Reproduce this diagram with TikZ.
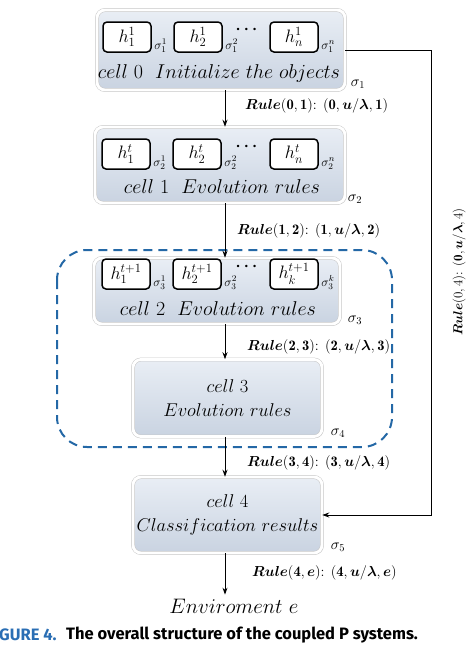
\RequirePackage{fix-cm}
\documentclass[tikz,border=0pt]{standalone}
\usepackage{amsmath}
\usepackage{bm}
\usepackage{fontspec}
\newfontfamily\capfont{Fira Sans}
\usetikzlibrary{arrows.meta,shadows,calc}
\definecolor{dashblue}{HTML}{2468A6}
\definecolor{capblue}{HTML}{2A6EB4}
\definecolor{celltop}{HTML}{E9EEF5}
\definecolor{cellbot}{HTML}{C9D3E1}
\tikzset{
  cell/.style={rounded corners=8pt, top color=celltop, bottom color=cellbot,
    draw=gray!45, line width=0.5pt, double=white, double distance=2.8pt,
    drop shadow={shadow xshift=1.5pt, shadow yshift=-1.5pt, opacity=0.25},
    inner sep=0pt, align=center, font=\fontsize{18.5}{24}\selectfont},
  hbox/.style={draw=black, line width=1.5pt, rounded corners=4pt, fill=white,
    minimum width=48pt, minimum height=30pt, inner sep=0pt,
    font=\fontsize{18}{20}\selectfont},
  sig/.style={anchor=south west, inner sep=0pt, xshift=2.5pt, font=\fontsize{12.5}{13}\selectfont},
  bigsig/.style={inner sep=0pt, font=\fontsize{15}{16}\selectfont},
  celltext/.style={inner sep=0pt, font=\fontsize{20}{22}\selectfont},
  rulelab/.style={anchor=west, inner sep=0pt, font=\fontsize{14.5}{16}\selectfont},
  dots/.style={inner sep=0pt, font=\fontsize{16}{16}\selectfont},
  arr/.style={-{Stealth[length=7pt,width=5pt]}, line width=0.9pt},
  dashbox/.style={draw=dashblue, line width=2pt, dash pattern=on 9pt off 6pt, rounded corners=30pt},
}
\begin{document}
\begin{tikzpicture}[x=1pt,y=-1pt]
\useasboundingbox (0,0) rectangle (474,657);

% dashed group
\draw[dashbox] (57,250) rectangle (392,447);

% cells
\node[cell, minimum width=248pt, minimum height=80pt] (c0) at (221,50) {};
\node[cell, minimum width=250pt, minimum height=76pt] (c1) at (220,165) {};
\node[cell, minimum width=246pt, minimum height=66pt] (c2) at (217,291) {};
\node[cell, minimum width=189pt, minimum height=77pt] (c3) at (227.5,398) {$cell\ 3$\\[0pt]$Evolution\ rules$};
\node[cell, minimum width=189pt, minimum height=76pt] (c4) at (227.5,515) {$cell\ 4$\\[0pt]$Classification\ results$};

% cell 0 contents
\node[hbox] (a1) at (127,37) {$h_1^1$};
\node[hbox] (a2) at (198,37) {$h_2^1$};
\node[hbox] (a3) at (294,37) {$h_n^1$};
\node[sig] (sa1) at (a1.south east) {$\sigma_1^1$};
\node[sig] (sa2) at (a2.south east) {$\sigma_1^2$};
\node[sig] (sa3) at (a3.south east) {$\sigma_1^n$};
\node[dots] (da) at (248,30) {$\bm{\cdots}$};
\node[celltext] (t0) at (219,73) {$cell\ 0\ \ Initialize\ the\ objects$};
\node[bigsig] (s1) at (358,84) {$\sigma_1$};

% cell 1 contents
\node[hbox] (b1) at (126,154) {$h_1^t$};
\node[hbox] (b2) at (197,154) {$h_2^t$};
\node[hbox] (b3) at (294,154) {$h_n^t$};
\node[sig] (sb1) at (b1.south east) {$\sigma_2^1$};
\node[sig] (sb2) at (b2.south east) {$\sigma_2^2$};
\node[sig] (sb3) at (b3.south east) {$\sigma_2^n$};
\node[dots] (db) at (248,147) {$\bm{\cdots}$};
\node[celltext] (t1) at (222,187) {$cell\ 1\ \ Evolution\ rules$};
\node[bigsig] (s2) at (355,199) {$\sigma_2$};

% cell 2 contents
\node[hbox] (e1) at (126,274) {$h_1^{t+1}$};
\node[hbox] (e2) at (197,274) {$h_2^{t+1}$};
\node[hbox] (e3) at (294,274) {$h_k^{t+1}$};
\node[sig] (se1) at (e1.south east) {$\sigma_3^1$};
\node[sig] (se2) at (e2.south east) {$\sigma_3^2$};
\node[sig] (se3) at (e3.south east) {$\sigma_3^k$};
\node[dots] (de) at (248,267) {$\bm{\cdots}$};
\node[celltext] (t2) at (218,309) {$cell\ 2\ \ Evolution\ rules$};
\node[bigsig] (s3) at (355,320) {$\sigma_3$};

\node[bigsig] (s4) at (338,433) {$\sigma_4$};
\node[bigsig] (s5) at (338,547) {$\sigma_5$};

% environment
\node[celltext, font=\fontsize{21}{23}\selectfont] (env) at (234,606) {$Enviroment\ e$};

% connectors
\coordinate (ax) at (225,0);
\draw[arr] (c0.south -| ax) -- (c1.north -| ax);
\draw[arr] (c1.south -| ax) -- (c2.north -| ax);
\draw[arr] (c2.south -| ax) -- (c3.north -| ax);
\draw[arr] (c3.south -| ax) -- (c4.north -| ax);
\draw[arr] (c4.south -| ax) -- ($(env.north -| ax)+(0,-4)$);
\coordinate (rc) at (431,0);
\draw[arr] (c0.east) -- (c0.east -| rc) -- (c4.east -| rc) -- (c4.east);

% rule labels
\node[rulelab] (r01) at (245,106) {$\bm{Rule}(\mathbf{0},\mathbf{1})$: $(\mathbf{0},\bm{u}/\bm{\lambda},\mathbf{1})$};
\node[rulelab] (r12) at (237,231) {$\bm{Rule}(\mathbf{1},\mathbf{2})$: $(\mathbf{1},\bm{u}/\bm{\lambda},\mathbf{2})$};
\node[rulelab] (r23) at (247,347) {$\bm{Rule}(\mathbf{2},\mathbf{3})$: $(\mathbf{2},\bm{u}/\bm{\lambda},\mathbf{3})$};
\node[rulelab] (r34) at (247,463) {$\bm{Rule}(\mathbf{3},\mathbf{4})$: $(\mathbf{3},\bm{u}/\bm{\lambda},\mathbf{4})$};
\node[rulelab] (r4e) at (252,573) {$\bm{Rule}(\mathbf{4},\bm{e})$: $(\mathbf{4},\bm{u}/\bm{\lambda},\bm{e})$};
\node[inner sep=0pt, rotate=90, font=\fontsize{13}{14}\selectfont] (r04) at (459,272)
  {$\bm{Rule}(0,4)$: $(\mathbf{0},\bm{u}/\bm{\lambda},4)$};

% caption
\node[anchor=west, inner sep=0pt, font=\capfont\bfseries\fontsize{16.5}{18}\selectfont, text=capblue] (cap1) at (-1,635) {GURE 4.};
\node[anchor=west, inner sep=0pt, font=\capfont\bfseries\fontsize{16.5}{18}\selectfont] (cap2) at (66,635) {The overall structure of the coupled P systems.};
\end{tikzpicture}
\end{document}
